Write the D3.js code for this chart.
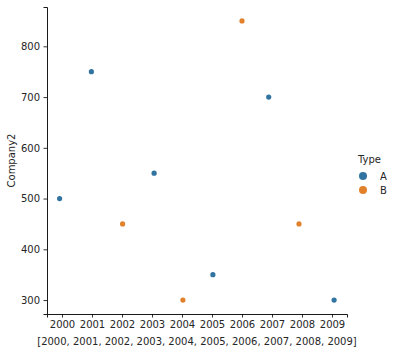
<!DOCTYPE html>
<html>
<head>
<meta charset="utf-8">
<script src="https://cdn.jsdelivr.net/npm/d3@7"></script>
<style>
  body { margin: 0; background: #fff; }
  text { font-family: "DejaVu Sans", sans-serif; fill: #262626; }
</style>
</head>
<body>
<div id="chart"></div>
<script>
// data
const years = [2000, 2001, 2002, 2003, 2004, 2005, 2006, 2007, 2008, 2009];
const company2 = [500, 750, 450, 550, 300, 350, 850, 700, 450, 300];
const types = ["A", "A", "B", "A", "B", "A", "B", "A", "B", "A"];
// strip jitter (in category units)
const jitter = [-0.08, -0.02, 0.02, 0.07, 0.03, 0.03, 0.0, -0.11, -0.1, 0.07];
const typeNames = ["A", "B"];
const yTicks = [300, 400, 500, 600, 700, 800];

const width = 395, height = 352;
const margin = { top: 7, right: 48, bottom: 38, left: 47 };

const svg = d3.select("#chart").append("svg")
    .attr("width", width)
    .attr("height", height);

const x = d3.scaleLinear()
    .domain([-0.5, years.length - 0.5])
    .range([margin.left, width - margin.right]);

const y = d3.scaleLinear()
    .domain([272.5, 877.5])
    .range([height - margin.bottom, margin.top]);

const color = d3.scaleOrdinal()
    .domain(typeNames)
    .range(["#3274a1", "#e1812c"]);

// y axis
const yAxis = svg.append("g")
    .attr("transform", `translate(${margin.left},0)`)
    .call(d3.axisLeft(y).tickValues(yTicks).tickSize(3.5).tickPadding(3.5));
yAxis.select(".domain").attr("stroke", "#000").attr("stroke-width", 0.9);
yAxis.selectAll(".tick line").attr("stroke", "#000").attr("stroke-width", 0.8);
yAxis.selectAll("text").style("font-size", "10px").attr("fill", "#262626");

// x axis
const xAxis = svg.append("g")
    .attr("transform", `translate(0,${height - margin.bottom})`)
    .call(d3.axisBottom(x)
        .tickValues(d3.range(years.length))
        .tickFormat(i => years[i])
        .tickSize(3.5).tickPadding(3.5));
xAxis.select(".domain").attr("stroke", "#000").attr("stroke-width", 0.9);
xAxis.selectAll(".tick line").attr("stroke", "#000").attr("stroke-width", 0.8);
xAxis.selectAll("text").style("font-size", "10px").attr("fill", "#262626");

// axis labels
svg.append("text")
    .attr("x", (margin.left + width - margin.right) / 2)
    .attr("y", 345)
    .attr("text-anchor", "middle")
    .style("font-size", "10px")
    .text("[" + years.join(", ") + "]");

svg.append("text")
    .attr("transform", `translate(15,${(margin.top + height - margin.bottom) / 2}) rotate(-90)`)
    .attr("text-anchor", "middle")
    .style("font-size", "10px")
    .text("Company2");

// points
svg.selectAll(".dot")
    .data(years.map((yr, i) => ({ i, value: company2[i], type: types[i] })))
    .enter()
    .append("circle")
    .attr("class", "dot")
    .attr("cx", d => x(d.i + jitter[d.i]))
    .attr("cy", d => y(d.value))
    .attr("r", 2.6)
    .attr("fill", d => color(d.type));

// legend
const legend = svg.append("g").attr("transform", "translate(358,0)");
legend.append("text")
    .attr("x", 0)
    .attr("y", 163)
    .style("font-size", "10px")
    .text("Type");
const items = legend.selectAll(".item")
    .data(typeNames)
    .enter()
    .append("g")
    .attr("transform", (d, i) => `translate(0,${176 + i * 14})`);
items.append("circle")
    .attr("cx", 5)
    .attr("cy", 0)
    .attr("r", 4)
    .attr("fill", d => color(d));
items.append("text")
    .attr("x", 22)
    .attr("y", 3.5)
    .style("font-size", "10px")
    .text(d => d);
</script>
</body>
</html>
